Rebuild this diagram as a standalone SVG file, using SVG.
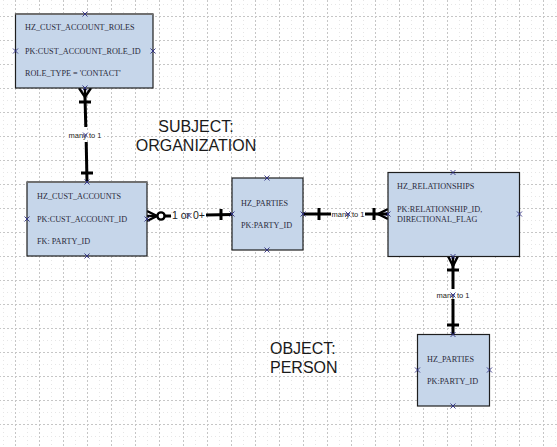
<svg xmlns="http://www.w3.org/2000/svg" width="557" height="447" viewBox="0 0 557 447">
<style>
.box{fill:#c6d6ea;stroke:#1e1e1e;stroke-width:1.2}
.topg{stroke:#707070;stroke-width:2.2}
.t{font-family:"Liberation Serif",serif;font-size:8.2px;fill:#2a2a3a}
.lbl{font-family:"Liberation Sans",Arial,sans-serif;font-size:7.5px;fill:#222}
.lbl2{font-family:"Liberation Sans",Arial,sans-serif;font-size:10.5px;fill:#222}
.big{font-family:"Liberation Sans",Arial,sans-serif;font-size:16px;fill:#1a1a1a}
.ln{stroke:#000;stroke-width:3;fill:none}
.cf{stroke:#000;stroke-width:2.4;fill:none}
.bar{stroke:#000;stroke-width:3}
.mk{stroke:#2c2c80;stroke-width:0.9}
</style>
<defs>
<pattern id="grid" x="15" y="16" width="24" height="24" patternUnits="userSpaceOnUse">
<line x1="12.5" y1="0" x2="12.5" y2="24" stroke="#e6e6e6" stroke-width="1" stroke-dasharray="1,3"/>
<line x1="0" y1="12.5" x2="24" y2="12.5" stroke="#e6e6e6" stroke-width="1" stroke-dasharray="1,3"/>
<line x1="0.5" y1="0" x2="0.5" y2="24" stroke="#c6c6c6" stroke-width="1" stroke-dasharray="2,2"/>
<line x1="0" y1="0.5" x2="24" y2="0.5" stroke="#c6c6c6" stroke-width="1" stroke-dasharray="2,2"/>
</pattern>
<g id="x"><line class="mk" x1="-2.5" y1="-2.5" x2="2.5" y2="2.5"/><line class="mk" x1="-2.5" y1="2.5" x2="2.5" y2="-2.5"/></g>
</defs>
<rect width="557" height="447" fill="#fff"/>
<rect width="557" height="447" fill="url(#grid)"/>

<g id="connectors">
<!-- roles to accounts -->
<line class="ln" x1="85" y1="97" x2="85.8" y2="127"/>
<line class="ln" x1="86.2" y1="142" x2="87" y2="182"/>
<polyline class="cf" points="79,88 85,97 91,88"/>
<line class="cf" x1="85" y1="88" x2="85" y2="97"/>
<line class="bar" x1="79" y1="102" x2="91" y2="102"/>
<line class="bar" x1="81" y1="173" x2="93" y2="173"/>
<rect x="66" y="130" width="38" height="9" fill="#fff"/>
<text class="lbl" x="85" y="137.5" text-anchor="middle">many to 1</text>
<use href="#x" x="85.5" y="135"/>

<!-- accounts to parties -->
<polyline class="cf" points="147,211 157,216 147,221"/>
<line class="cf" x1="147" y1="216" x2="157" y2="216"/>
<circle cx="161" cy="216" r="3.6" fill="#fff" stroke="#000" stroke-width="2.4"/>
<line class="ln" x1="164.5" y1="216" x2="171" y2="216"/>
<line class="ln" x1="206" y1="215" x2="232" y2="214.5"/>
<line class="bar" x1="221" y1="209" x2="221" y2="220"/>
<text class="lbl2" x="172" y="219">1 or 0+</text>
<use href="#x" x="189" y="215.5"/>

<!-- parties to relationships -->
<line class="ln" x1="303" y1="214" x2="331" y2="214"/>
<line class="ln" x1="365" y1="214" x2="388" y2="214"/>
<line class="bar" x1="319" y1="208" x2="319" y2="220"/>
<line class="bar" x1="374" y1="208" x2="374" y2="220"/>
<polyline class="cf" points="388,209 378,214 388,219"/>
<text class="lbl" x="348" y="217" text-anchor="middle">many to 1</text>
<use href="#x" x="348" y="214"/>

<!-- relationships to parties (person) -->
<line class="ln" x1="453" y1="265" x2="453" y2="289"/>
<line class="ln" x1="453" y1="299" x2="453" y2="334"/>
<polyline class="cf" points="448,256 453,266 458,256"/>
<line class="cf" x1="453" y1="256" x2="453" y2="266"/>
<line class="bar" x1="447" y1="270" x2="459" y2="270"/>
<line class="bar" x1="447" y1="325" x2="459" y2="325"/>
<rect x="434" y="290" width="38" height="9" fill="#fff"/>
<text class="lbl" x="453" y="297.5" text-anchor="middle">many to 1</text>
<use href="#x" x="453" y="295"/>
</g>

<g id="n-roles">
<rect class="box" x="15.5" y="14" width="137.5" height="74"/>
<line class="topg" x1="15.5" y1="14" x2="153" y2="14"/>
<text class="t" x="25" y="30">HZ_CUST_ACCOUNT_ROLES</text>
<text class="t" x="25" y="54">PK:CUST_ACCOUNT_ROLE_ID</text>
<text class="t" x="25" y="76">ROLE_TYPE = 'CONTACT'</text>
<use href="#x" x="85" y="14"/><use href="#x" x="15.5" y="51"/><use href="#x" x="153" y="51"/><use href="#x" x="85" y="88"/>
</g>

<g id="n-accounts">
<rect class="box" x="27" y="182" width="120" height="74"/>
<line class="topg" x1="27" y1="182" x2="147" y2="182"/>
<text class="t" x="37" y="198.5">HZ_CUST_ACCOUNTS</text>
<text class="t" x="37" y="222">PK:CUST_ACCOUNT_ID</text>
<text class="t" x="37" y="244">FK: PARTY_ID</text>
<use href="#x" x="87" y="182"/><use href="#x" x="27" y="219"/><use href="#x" x="147" y="219"/><use href="#x" x="87" y="256"/>
</g>

<g id="n-parties-org">
<rect class="box" x="232" y="178" width="71" height="72"/>
<text class="t" x="241" y="206">HZ_PARTIES</text>
<text class="t" x="241" y="228">PK:PARTY_ID</text>
<use href="#x" x="267" y="178"/><use href="#x" x="232" y="214"/><use href="#x" x="303" y="214"/><use href="#x" x="267" y="250"/>
</g>

<g id="n-relationships">
<rect class="box" x="388" y="172.5" width="131.5" height="84"/>
<text class="t" x="397" y="189">HZ_RELATIONSHIPS</text>
<text class="t" x="397" y="211.5">PK:RELATIONSHIP_ID,</text>
<text class="t" x="397" y="222">DIRECTIONAL_FLAG</text>
<use href="#x" x="453" y="172.5"/><use href="#x" x="388" y="214"/><use href="#x" x="519.5" y="214"/><use href="#x" x="453" y="256.5"/>
</g>

<g id="n-parties-person">
<rect class="box" x="417.5" y="334.5" width="72" height="71.5"/>
<text class="t" x="427" y="362">HZ_PARTIES</text>
<text class="t" x="427" y="383.5">PK:PARTY_ID</text>
<use href="#x" x="453" y="334.5"/><use href="#x" x="417.5" y="370"/><use href="#x" x="489.5" y="370"/><use href="#x" x="453" y="406"/>
</g>

<g id="labels">
<text class="big" x="196" y="132" text-anchor="middle">SUBJECT:</text>
<text class="big" x="196" y="151" text-anchor="middle">ORGANIZATION</text>
<text class="big" x="270" y="353.5">OBJECT:</text>
<text class="big" x="270" y="372.5">PERSON</text>
</g>
</svg>
